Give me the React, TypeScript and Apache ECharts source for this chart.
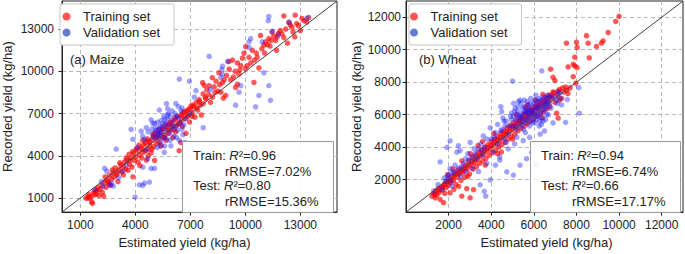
import React, { useEffect, useRef } from "react";
import * as echarts from "echarts";

const FONT = "'Liberation Sans', Arial, sans-serif";

const maizeTicks = [1000, 4000, 7000, 10000, 13000];
const wheatTicks = [2000, 4000, 6000, 8000, 10000, 12000];
const maizeRange = [0, 15000];
const wheatRange = [0, 13000];

const maizeTrain: number[][] = [
  [1300, 1000], [1420, 980], [1480, 1100], [1560, 1020], [1620, 720], [1660, 620], [1700, 1350], [1760, 1200],
  [1820, 1500], [1880, 1300], [1950, 1720], [2020, 1180], [2080, 1600], [2150, 1900], [2200, 1400], [2270, 1130],
  [2330, 2100], [2400, 1760], [2450, 2250], [2520, 2180], [2600, 2600], [2650, 1900], [2700, 2350], [2780, 2800],
  [2850, 2500], [2900, 3150], [2980, 2650], [3050, 2170], [3100, 3000], [3200, 3350], [3250, 2850], [3330, 3200],
  [3400, 3550], [3480, 3050], [3550, 3700], [3600, 2980], [3680, 3400], [3750, 3850], [3870, 2510], [3820, 3200],
  [3900, 4150], [3950, 3670], [4020, 3900], [4100, 4350], [4150, 3550], [4230, 4050], [4300, 4600], [4350, 3850],
  [4420, 4250], [4480, 4800], [4550, 4350], [4600, 3700], [4680, 4500], [4720, 5050], [4800, 4700], [4850, 4200],
  [4920, 5150], [5000, 4650], [5050, 3670], [5100, 5300], [5150, 4900], [5230, 5500], [5300, 4950], [5380, 5650],
  [5420, 4700], [5480, 5300], [5550, 5900], [5600, 5450], [5680, 5100], [5730, 6050], [5800, 5600], [5870, 6250],
  [5930, 5800], [6000, 6400], [6050, 5300], [6120, 5870], [6180, 6550], [6250, 6150], [6300, 6800], [6390, 4360],
  [6480, 4940], [6420, 6350], [6500, 6900], [6560, 6100], [6620, 7100], [6700, 6650], [6760, 5600], [6840, 6790],
  [6900, 7300], [6960, 6400], [7040, 7550], [7100, 7050], [7200, 7480], [7250, 6750], [7330, 7800], [7400, 7250],
  [7480, 8000], [7550, 7600], [7600, 6900], [4400, 5100], [4700, 4000], [5000, 5400], [5300, 5900], [5600, 5300],
  [5900, 6400], [6200, 5700], [6500, 6500], [6800, 7200], [7100, 6800], [4250, 3300], [3650, 4100], [4900, 4450],
  [7670, 9200], [7700, 8400], [7760, 9000], [7820, 8150], [7900, 8700], [8030, 8980], [8100, 7800], [8200, 9550],
  [8210, 8170], [8300, 8900], [8400, 9300], [8500, 8600], [8560, 9900], [8660, 8520], [8750, 9200], [8800, 8100],
  [8930, 8290], [8980, 9700], [9100, 10700], [9120, 10150], [9300, 10800], [9350, 9600], [9470, 8860], [9570, 9090],
  [9570, 10600], [9650, 9800], [9750, 10400], [9840, 10940], [9930, 11290], [10020, 11750], [10100, 10400], [10200, 11000],
  [10380, 11500], [10470, 9210], [10500, 10800], [10600, 11300], [10740, 10250], [10830, 12550], [10900, 11600], [11010, 11860],
  [11100, 12100], [11200, 11900], [11280, 12330], [11400, 12200], [11460, 12790], [11550, 12500], [11730, 12440], [11800, 12700],
  [11900, 12900], [12000, 12670], [12100, 13940], [12200, 13000], [12370, 13480], [12450, 13300], [12540, 13140], [12720, 13990],
  [12800, 13400], [12900, 13250], [13090, 13760], [13200, 13600], [13450, 13830], [13350, 13500], [12700, 12450], [12300, 12000],
  [11700, 11500], [13000, 12900],
  [1450, 1250], [1900, 1550], [2350, 2500], [2550, 2000], [2750, 3000], [3000, 2800], [3150, 3500], [3350, 2650],
  [3500, 3850], [3700, 3650], [3850, 4300], [4050, 4500], [4200, 4750], [4380, 4450], [4550, 4900], [4650, 5200],
  [4780, 4950], [4950, 5500], [5100, 5650], [5250, 5300], [5450, 5950], [5650, 6200], [5800, 5850], [6000, 6150],
  [6150, 6700], [6350, 6250], [6550, 6850], [6700, 7100], [6850, 6900], [7000, 7350], [7150, 7600], [7350, 7400],
  [7500, 7850], [7700, 7700], [7850, 8050], [8000, 8350], [8350, 8500], [8600, 9050], [8850, 9400], [9200, 9400],
  [9450, 10000], [9700, 10100], [10000, 10200], [10300, 10600], [10650, 11000], [11050, 11300], [11350, 11800], [11650, 12200],
  [12100, 12400], [12600, 12800],
];

const maizeTest: number[][] = [
  [1790, 1600], [2150, 2170], [2240, 1820], [2330, 3100], [2450, 2900], [2600, 1940], [2700, 2050], [2800, 1850],
  [2960, 4480], [3100, 2450], [3300, 2900], [3500, 3350], [3770, 5870], [3870, 5170], [3990, 1060], [4100, 4600],
  [4220, 1940], [4320, 5750], [4410, 3200], [4400, 1900], [4500, 5170], [4500, 2060], [4600, 4400], [4680, 3790],
  [4770, 2130], [4860, 6560], [4860, 3100], [4950, 6320], [5000, 5600], [5050, 3100], [5100, 6000], [5150, 5250],
  [5200, 4600], [5250, 5800], [5310, 7250], [5300, 5400], [5350, 6100], [5400, 5000], [5450, 5700], [5500, 6300],
  [5580, 4250], [5550, 5300], [5600, 6600], [5650, 5900], [5700, 7700], [5760, 7360], [5700, 5200], [5800, 6200],
  [5850, 5600], [5940, 4710], [5900, 6800], [6000, 5900], [6050, 6500], [6100, 5400], [6150, 7000], [6210, 7710],
  [6200, 6100], [6300, 5800], [6350, 6700], [6400, 9450], [6450, 6300], [6500, 7200], [6600, 5500], [6700, 4950],
  [6750, 6600], [6950, 9300], [7000, 7000], [7220, 8170], [7310, 8630], [7700, 6000], [8030, 11060], [8100, 8700],
  [8660, 9560], [8720, 10130], [8750, 10370], [8750, 9790], [9030, 10710], [9470, 7600], [9660, 8520], [9750, 8980],
  [10200, 12100], [10200, 11700], [10290, 12330], [10560, 7480], [10740, 8290], [10920, 12100], [11010, 9900], [11250, 13600],
  [11280, 13900], [11280, 8980], [11370, 7940], [11460, 12860], [12400, 13480], [13360, 13760], [11800, 12600], [5350, 5650],
  [5450, 6050], [5650, 6300], [5250, 5500], [6050, 6100], [4950, 5300], [5750, 6600], [6250, 6800], [6550, 7400],
  [4700, 5700], [4900, 5900], [5050, 6300], [5200, 6400], [5400, 6500], [5550, 6800], [5800, 7000], [6000, 7200],
  [5350, 4700], [5600, 4700], [5900, 5100], [6250, 5300], [6400, 5100], [6550, 5900], [6650, 6200], [4600, 6000],
  [4400, 5400], [5150, 5800], [5750, 6900], [6350, 7500],
];

const wheatTrain: number[][] = [
  [1220, 980], [1300, 1150], [1370, 880], [1400, 1300], [1450, 1050], [1500, 1450], [1550, 1200], [1600, 780],
  [1650, 1550], [1700, 1350], [1760, 580], [1780, 1700], [1820, 1150], [1880, 1500], [1920, 1900], [1980, 1650],
  [2030, 2050], [2070, 1180], [2100, 1800], [2180, 2200], [2230, 1950], [2300, 2400], [2350, 1700], [2400, 2150],
  [2470, 1580], [2450, 2600], [2520, 2350], [2580, 1950], [2620, 980], [2650, 2700], [2700, 2450], [2760, 2150],
  [2800, 2900], [2850, 1440], [2870, 2650], [2930, 3150], [2980, 2350], [3010, 880], [3050, 2900], [3100, 3350],
  [3170, 1380], [3150, 2650], [3200, 3050], [3260, 3500], [3300, 2800], [3350, 3250], [3400, 3700], [3450, 3000],
  [3500, 3450], [3560, 3850], [3600, 3150], [3650, 3600], [3700, 4000], [3750, 3300], [3800, 3750], [3850, 4150],
  [3900, 3500], [3950, 3900], [4000, 4350], [4050, 3650], [4100, 4100], [4150, 4500], [4200, 3800], [4250, 4250],
  [4300, 4650], [4350, 4000], [4400, 4400], [4450, 4850], [4500, 4150], [4550, 4600], [4600, 5000], [4650, 4300],
  [4700, 4750], [4750, 5200], [4800, 4500], [4850, 4950], [4900, 5350], [4950, 4650], [5000, 5100], [5050, 5500],
  [5100, 4800], [5150, 5250], [5200, 5650], [5250, 5000], [5300, 5450], [5350, 5800], [5400, 5150], [5450, 5600],
  [5500, 6000], [5550, 5300], [5600, 5750], [5650, 6150], [5700, 5450], [5750, 5900], [5800, 6300], [5850, 5600],
  [5900, 6050], [5950, 6450], [6000, 5750], [6050, 6200], [6100, 6600], [6150, 5900], [6200, 6350], [6250, 6750],
  [6300, 6050], [6350, 6500], [6400, 6900], [6450, 6200], [6500, 6650], [6550, 7050], [6600, 6350], [6650, 6800],
  [6700, 7200], [6750, 6500], [6790, 8800], [6900, 8300], [6990, 8100], [6850, 7000], [6900, 7400], [7000, 6750],
  [7070, 6090], [7140, 5790], [7100, 7200], [7200, 7550], [7300, 7000], [7400, 7400], [7530, 10400], [7500, 7700],
  [7610, 8940], [7600, 7300], [7700, 7650], [7850, 9100], [7850, 8340], [7920, 9540], [7920, 9000], [7970, 7940],
  [8000, 10460], [8030, 10140], [8030, 8900], [8470, 10860], [8550, 10400], [8600, 9500], [8940, 10200], [9170, 10400],
  [9250, 10540], [9490, 11060], [9840, 11740], [10000, 12060], [3380, 4100], [3020, 3600], [2620, 3150], [4120, 4850],
  [4480, 3700], [3720, 2900], [2250, 1400], [1950, 2300], [5180, 6000], [5620, 6450], [6080, 6900], [6420, 7250],
  [1350, 1100], [1550, 1350], [1720, 1550], [1850, 1750], [2000, 1900], [2150, 2000], [2280, 2250], [2420, 2400],
  [2550, 2500], [2680, 2600], [2820, 2750], [2950, 2900], [3080, 3100], [3220, 3200], [3380, 3400], [3520, 3600],
  [3680, 3800], [3820, 3950], [3980, 4100], [4120, 4300], [4280, 4450], [4420, 4600], [4580, 4800], [4720, 4950],
  [4880, 5150], [5020, 5300], [5180, 5450], [5320, 5600], [5480, 5800], [5620, 5950], [5780, 6100], [5920, 6250],
  [6080, 6400], [6220, 6550], [6380, 6700], [6520, 6850], [6680, 7000], [6820, 7200], [6950, 7350], [7150, 7450],
  [7350, 7650], [7550, 7500], [2200, 2650], [2900, 2200], [3600, 4350], [4300, 3600], [5000, 4500], [5700, 6600],
  [6400, 5800], [7200, 6900],
];

const wheatTest: number[][] = [
  [1300, 1300], [1500, 1700], [1600, 3090], [1700, 1400], [1800, 2100], [1850, 1900], [1920, 3990], [2000, 2300],
  [2070, 2690], [2070, 4390], [2150, 1600], [2250, 2500], [2390, 3690], [2460, 4090], [2540, 3790], [2550, 2200],
  [2700, 3000], [2800, 2500], [2900, 3600], [3010, 4290], [3100, 2700], [3200, 3900], [3300, 3300], [3400, 2500],
  [3480, 1680], [3500, 4200], [3630, 4690], [3600, 3500], [3670, 1280], [3740, 980], [3700, 4000], [3800, 3000],
  [3950, 5190], [3950, 1980], [4000, 4500], [4100, 3700], [4200, 4900], [4300, 4200], [4400, 3400], [4450, 6490],
  [4490, 6190], [4500, 5100], [4600, 4500], [4730, 2480], [4700, 5600], [4800, 4800], [4900, 5900], [5000, 8060],
  [5040, 2280], [5000, 5300], [5100, 6200], [5150, 5700], [5200, 4600], [5250, 6500], [5300, 5900], [5350, 2890],
  [5350, 5300], [5400, 6700], [5450, 6100], [5500, 5600], [5550, 6900], [5600, 4900], [5660, 3290], [5650, 6300],
  [5700, 5800], [5750, 6600], [5800, 5300], [5850, 7000], [5900, 3690], [5900, 6200], [5950, 5700], [6000, 6700],
  [6050, 5500], [6100, 7200], [6130, 2890], [6150, 6000], [6200, 6500], [6250, 5300], [6300, 6900], [6370, 8700],
  [6350, 5800], [6400, 6300], [6450, 7100], [6500, 5000], [6550, 6600], [6600, 6000], [6700, 6800], [6800, 6400],
  [6900, 5500], [7000, 7100], [7100, 6700], [7200, 7300], [7300, 6600], [7490, 5530], [7570, 6930], [8110, 7660],
  [8130, 6090], [5050, 5900], [5120, 6400], [5180, 5100], [5230, 6000], [5280, 6800], [5330, 5600], [5420, 5900],
  [5470, 6400], [5520, 5100], [5580, 6200], [5620, 5500], [5680, 6800], [5720, 6100], [5780, 5600], [5830, 6400],
  [5880, 5900], [5960, 6300], [6020, 6000], [6080, 6500], [6130, 5700], [6180, 6800], [6230, 6200], [6280, 5600],
  [6330, 6600], [6380, 6100], [6430, 5600], [6480, 6800], [6530, 6300], [6580, 7000], [6630, 6500], [6680, 6000],
  [6730, 7100], [4300, 5400], [4600, 5600], [4850, 5300], [4950, 6100], [4700, 4300], [4550, 5800], [3800, 4500],
  [3400, 3900], [3100, 3400], [2800, 3300], [2600, 2800], [2300, 2900], [2100, 1900], [4800, 3900], [5100, 4200],
  [5500, 4400], [5800, 4600], [6300, 4800], [4400, 3200], [4200, 2900],
  [4950, 5700], [5050, 6700], [5150, 5300], [5250, 6200], [5350, 6900], [5450, 5400], [5550, 6500], [5650, 5700],
  [5750, 6300], [5850, 6700], [5950, 5500], [6050, 6900], [6150, 6400], [6250, 7000], [6350, 5400], [6450, 6500],
  [6550, 5700], [6650, 7200], [6750, 6700], [6850, 7100], [7050, 6900], [7150, 7400], [7250, 7000], [4150, 4600],
  [4450, 5000], [4650, 5300], [3550, 3800], [3250, 3600], [2950, 3200], [2450, 2700], [2150, 2400], [1950, 2200],
  [6000, 6100], [6200, 5900], [5600, 6100], [5400, 5800], [5800, 6000], [6600, 6700],
];

const maizeStats = ["0.96", "7.02%", "0.80", "15.36%"];
const wheatStats = ["0.94", "6.74%", "0.66", "17.17%"];

function axis(gridIndex: number, range: number[], ticks: number[], margin: number, name: string, nameGap: number, namePad: number[]) {
  return {
    type: "value",
    gridIndex,
    min: range[0],
    max: range[1],
    name,
    nameLocation: "middle",
    nameGap,
    nameTextStyle: { fontFamily: FONT, fontSize: 13, color: "#222", padding: namePad },
    axisLine: { show: true, lineStyle: { color: "#222", width: 1 } },
    axisTick: { show: true, inside: false, length: 3.5, customValues: ticks, lineStyle: { color: "#222" } },
    axisLabel: { customValues: ticks, margin, fontFamily: FONT, fontSize: 12, color: "#222", formatter: (v: number) => String(v) },
    splitLine: { show: true, lineStyle: { color: "#b8b8b8", width: 1, type: [4, 3] } },
  };
}

function statTexts(x1: number, x2: number, s: string[]) {
  const rich = {
    n: { fontFamily: FONT, fontSize: 13, fill: "#222", color: "#222" },
    i: { fontFamily: FONT, fontSize: 13, fontStyle: "italic", fill: "#222", color: "#222" },
  };
  const mk = (x: number, y: number, text: string) => ({
    type: "text",
    x,
    y,
    z: 11,
    style: { text, rich, fill: "#222", font: `13px ${FONT}`, textAlign: "left", textVerticalAlign: "middle" },
  });
  return [
    mk(x1, 155, `{n|Train: }{i|R}{n|²=${s[0]}}`),
    mk(x2, 171, `{n|rRMSE=${s[1]}}`),
    mk(x1, 185, `{n|Test: }{i|R}{n|²=${s[2]}}`),
    mk(x2, 201, `{n|rRMSE=${s[3]}}`),
  ];
}

function legend(left: number, padLeft: number) {
  return {
    left,
    top: 4,
    orient: "vertical",
    selectedMode: false,
    itemWidth: 23,
    itemHeight: 8,
    itemGap: 3,
    padding: [6, 14, 6, padLeft],
    borderColor: "#c4c4c4",
    borderWidth: 1,
    borderRadius: 2,
    backgroundColor: "#fff",
    textStyle: { fontFamily: FONT, fontSize: 13, color: "#222" },
    data: [
      { name: "Training set", icon: "circle", itemStyle: { color: "#ff2a2a" } },
      { name: "Validation set", icon: "circle", itemStyle: { color: "#3d5cc4" } },
    ],
  };
}

function scatter(name: string, idx: number, data: number[][], color: string) {
  return {
    type: "scatter",
    name,
    xAxisIndex: idx,
    yAxisIndex: idx,
    data,
    symbolSize: 5.5,
    itemStyle: { color },
    z: 2,
  };
}

function diag(idx: number, range: number[]) {
  return {
    type: "line",
    xAxisIndex: idx,
    yAxisIndex: idx,
    data: [[range[0], range[0]], [range[1], range[1]]],
    symbol: "none",
    silent: true,
    lineStyle: { color: "#444", width: 1 },
    z: 3,
  };
}

export default function App() {
  const ref = useRef<HTMLDivElement>(null);
  useEffect(() => {
    const chart = echarts.init(ref.current!, null, { renderer: "svg" });
    chart.setOption({
      animation: false,
      backgroundColor: "#fff",
      grid: [
        { left: 58, top: 1, width: 279, height: 217, show: true, borderColor: "#222", borderWidth: 1, backgroundColor: "transparent" },
        { left: 406, top: 1, width: 277, height: 217, show: true, borderColor: "#222", borderWidth: 1, backgroundColor: "transparent" },
      ],
      xAxis: [
        axis(0, maizeRange, maizeTicks, 7, "Estimated yield (kg/ha)", 22, [0, 30, 0, 0]),
        axis(1, wheatRange, wheatTicks, 7, "Estimated yield (kg/ha)", 22, [0, 0, 0, 4]),
      ],
      yAxis: [
        axis(0, maizeRange, maizeTicks, 8, "Recorded yield (kg/ha)", 44, [0, 0, 4, 0]),
        axis(1, wheatRange, wheatTicks, 5, "Recorded yield (kg/ha)", 43, [0, 0, 0, 0]),
      ],
      legend: [legend(60, 2.5), legend(409, 1)],
      series: [
        scatter("Training set", 0, maizeTrain, "rgba(255,0,0,0.82)"),
        scatter("Validation set", 0, maizeTest, "rgba(20,20,255,0.5)"),
        diag(0, maizeRange),
        scatter("Training set", 1, wheatTrain, "rgba(255,0,0,0.82)"),
        scatter("Validation set", 1, wheatTest, "rgba(20,20,255,0.5)"),
        diag(1, wheatRange),
      ],
      graphic: [
        { type: "rect", z: 10, shape: { x: 182.5, y: 141.5, width: 151, height: 71 }, style: { fill: "rgba(255,255,255,0.9)", stroke: "#9a9a9a", lineWidth: 1 } },
        { type: "rect", z: 10, shape: { x: 530.5, y: 141.5, width: 150, height: 71 }, style: { fill: "rgba(255,255,255,0.9)", stroke: "#9a9a9a", lineWidth: 1 } },
        ...statTexts(193, 225, maizeStats),
        ...statTexts(541, 572, wheatStats),
        { type: "text", x: 70, y: 59, z: 11, style: { text: "(a) Maize", font: `13px ${FONT}`, fill: "#222", textAlign: "left", textVerticalAlign: "middle" } },
        { type: "text", x: 419, y: 59, z: 11, style: { text: "(b) Wheat", font: `13px ${FONT}`, fill: "#222", textAlign: "left", textVerticalAlign: "middle" } },
      ],
    });
    return () => chart.dispose();
  }, []);
  return <div ref={ref} style={{ position: "absolute", left: 0, top: 0, width: 685, height: 254, background: "#fff" }} />;
}
